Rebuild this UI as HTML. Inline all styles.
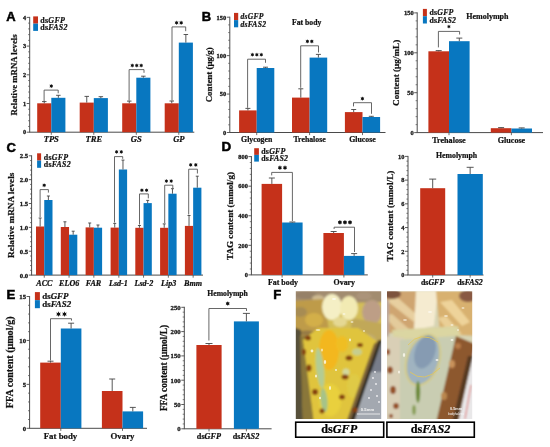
<!DOCTYPE html><html><head><meta charset="utf-8"><style>html,body{margin:0;padding:0;background:#fff;}svg{display:block;filter:blur(0.3px)}</style></head><body>
<svg width="550" height="447" viewBox="0 0 550 447">
<rect width="550" height="447" fill="#fff"/>
<text x="6.2" y="21.2" font-size="13" text-anchor="start" font-weight="bold" font-style="normal" font-family="Liberation Sans" fill="#000" stroke="#000" stroke-width="0.5" >A</text>
<line x1="29.7" y1="16.9" x2="29.7" y2="132.2" stroke="#4a4a4a" stroke-width="1.0"/>
<line x1="29.2" y1="132.2" x2="194.3" y2="132.2" stroke="#4a4a4a" stroke-width="1.0"/>
<line x1="26.7" y1="132.2" x2="29.7" y2="132.2" stroke="#4a4a4a" stroke-width="0.9"/>
<text x="26.099999999999998" y="134.45" font-size="6.25" text-anchor="end" font-weight="bold" font-style="normal" font-family="Liberation Serif" fill="#1a1a1a" stroke="#1a1a1a" stroke-width="0.3" >0</text>
<line x1="28.099999999999998" y1="126.46" x2="29.7" y2="126.46" stroke="#4a4a4a" stroke-width="0.7"/>
<line x1="28.099999999999998" y1="120.71999999999998" x2="29.7" y2="120.71999999999998" stroke="#4a4a4a" stroke-width="0.7"/>
<line x1="28.099999999999998" y1="114.97999999999999" x2="29.7" y2="114.97999999999999" stroke="#4a4a4a" stroke-width="0.7"/>
<line x1="28.099999999999998" y1="109.24" x2="29.7" y2="109.24" stroke="#4a4a4a" stroke-width="0.7"/>
<line x1="26.7" y1="103.5" x2="29.7" y2="103.5" stroke="#4a4a4a" stroke-width="0.9"/>
<text x="26.099999999999998" y="105.75" font-size="6.25" text-anchor="end" font-weight="bold" font-style="normal" font-family="Liberation Serif" fill="#1a1a1a" stroke="#1a1a1a" stroke-width="0.3" >1</text>
<line x1="28.099999999999998" y1="97.76" x2="29.7" y2="97.76" stroke="#4a4a4a" stroke-width="0.7"/>
<line x1="28.099999999999998" y1="92.02" x2="29.7" y2="92.02" stroke="#4a4a4a" stroke-width="0.7"/>
<line x1="28.099999999999998" y1="86.28" x2="29.7" y2="86.28" stroke="#4a4a4a" stroke-width="0.7"/>
<line x1="28.099999999999998" y1="80.54" x2="29.7" y2="80.54" stroke="#4a4a4a" stroke-width="0.7"/>
<line x1="26.7" y1="74.8" x2="29.7" y2="74.8" stroke="#4a4a4a" stroke-width="0.9"/>
<text x="26.099999999999998" y="77.05" font-size="6.25" text-anchor="end" font-weight="bold" font-style="normal" font-family="Liberation Serif" fill="#1a1a1a" stroke="#1a1a1a" stroke-width="0.3" >2</text>
<line x1="28.099999999999998" y1="69.06" x2="29.7" y2="69.06" stroke="#4a4a4a" stroke-width="0.7"/>
<line x1="28.099999999999998" y1="63.32" x2="29.7" y2="63.32" stroke="#4a4a4a" stroke-width="0.7"/>
<line x1="28.099999999999998" y1="57.58" x2="29.7" y2="57.58" stroke="#4a4a4a" stroke-width="0.7"/>
<line x1="28.099999999999998" y1="51.84" x2="29.7" y2="51.84" stroke="#4a4a4a" stroke-width="0.7"/>
<line x1="26.7" y1="46.099999999999994" x2="29.7" y2="46.099999999999994" stroke="#4a4a4a" stroke-width="0.9"/>
<text x="26.099999999999998" y="48.349999999999994" font-size="6.25" text-anchor="end" font-weight="bold" font-style="normal" font-family="Liberation Serif" fill="#1a1a1a" stroke="#1a1a1a" stroke-width="0.3" >3</text>
<line x1="28.099999999999998" y1="40.35999999999999" x2="29.7" y2="40.35999999999999" stroke="#4a4a4a" stroke-width="0.7"/>
<line x1="28.099999999999998" y1="34.62" x2="29.7" y2="34.62" stroke="#4a4a4a" stroke-width="0.7"/>
<line x1="28.099999999999998" y1="28.879999999999995" x2="29.7" y2="28.879999999999995" stroke="#4a4a4a" stroke-width="0.7"/>
<line x1="28.099999999999998" y1="23.139999999999997" x2="29.7" y2="23.139999999999997" stroke="#4a4a4a" stroke-width="0.7"/>
<line x1="26.7" y1="17.400000000000006" x2="29.7" y2="17.400000000000006" stroke="#4a4a4a" stroke-width="0.9"/>
<text x="26.099999999999998" y="19.650000000000006" font-size="6.25" text-anchor="end" font-weight="bold" font-style="normal" font-family="Liberation Serif" fill="#1a1a1a" stroke="#1a1a1a" stroke-width="0.3" >4</text>
<text transform="translate(17.3,74.9) rotate(-90)" font-size="8.75" text-anchor="middle" font-weight="bold" font-family="Liberation Serif" fill="#111" stroke="#111" stroke-width="0.22">Relative mRNA levels</text>
<rect x="33.2" y="16.4" width="4.8" height="7.25" fill="#c5311a"/>
<rect x="33.2" y="23.65" width="4.8" height="7.25" fill="#0877c0"/>
<text x="40.3" y="22.849999999999998" font-size="8.0" text-anchor="start" font-weight="bold" font-style="normal" font-family="Liberation Serif" fill="#111" stroke="#111" stroke-width="0.2" letter-spacing="0.25">ds<tspan font-style="italic">GFP</tspan></text>
<text x="40.3" y="30.099999999999998" font-size="8.0" text-anchor="start" font-weight="bold" font-style="normal" font-family="Liberation Serif" fill="#111" stroke="#111" stroke-width="0.2" letter-spacing="0.25">ds<tspan font-style="italic">FAS2</tspan></text>
<rect x="37.2" y="103.3" width="14.1" height="28.89999999999999" fill="#c5311a"/>
<line x1="44.25" y1="101.6" x2="44.25" y2="103.3" stroke="#444" stroke-width="0.9"/>
<line x1="42.0" y1="101.6" x2="46.5" y2="101.6" stroke="#444" stroke-width="0.9"/>
<rect x="51.300000000000004" y="97.8" width="14.1" height="34.39999999999999" fill="#0877c0"/>
<line x1="58.35" y1="95.3" x2="58.35" y2="97.8" stroke="#444" stroke-width="0.9"/>
<line x1="56.1" y1="95.3" x2="60.6" y2="95.3" stroke="#444" stroke-width="0.9"/>
<line x1="51.300000000000004" y1="132.2" x2="51.300000000000004" y2="134.79999999999998" stroke="#4a4a4a" stroke-width="0.8"/>
<rect x="79.7" y="102.6" width="14.1" height="29.599999999999994" fill="#c5311a"/>
<line x1="86.75" y1="96.4" x2="86.75" y2="102.6" stroke="#444" stroke-width="0.9"/>
<line x1="84.5" y1="96.4" x2="89.0" y2="96.4" stroke="#444" stroke-width="0.9"/>
<rect x="93.8" y="98.1" width="14.1" height="34.099999999999994" fill="#0877c0"/>
<line x1="100.85" y1="96.7" x2="100.85" y2="98.1" stroke="#444" stroke-width="0.9"/>
<line x1="98.6" y1="96.7" x2="103.1" y2="96.7" stroke="#444" stroke-width="0.9"/>
<line x1="93.8" y1="132.2" x2="93.8" y2="134.79999999999998" stroke="#4a4a4a" stroke-width="0.8"/>
<rect x="122.2" y="103.3" width="14.1" height="28.89999999999999" fill="#c5311a"/>
<line x1="129.25" y1="101.1" x2="129.25" y2="103.3" stroke="#444" stroke-width="0.9"/>
<line x1="127.0" y1="101.1" x2="131.5" y2="101.1" stroke="#444" stroke-width="0.9"/>
<rect x="136.3" y="77.7" width="14.1" height="54.499999999999986" fill="#0877c0"/>
<line x1="143.35000000000002" y1="76.2" x2="143.35000000000002" y2="77.7" stroke="#444" stroke-width="0.9"/>
<line x1="141.10000000000002" y1="76.2" x2="145.60000000000002" y2="76.2" stroke="#444" stroke-width="0.9"/>
<line x1="136.3" y1="132.2" x2="136.3" y2="134.79999999999998" stroke="#4a4a4a" stroke-width="0.8"/>
<rect x="164.7" y="103.3" width="14.1" height="28.89999999999999" fill="#c5311a"/>
<line x1="171.75" y1="101.0" x2="171.75" y2="103.3" stroke="#444" stroke-width="0.9"/>
<line x1="169.5" y1="101.0" x2="174.0" y2="101.0" stroke="#444" stroke-width="0.9"/>
<rect x="178.79999999999998" y="42.6" width="14.1" height="89.6" fill="#0877c0"/>
<line x1="185.85" y1="34.5" x2="185.85" y2="42.6" stroke="#444" stroke-width="0.9"/>
<line x1="183.6" y1="34.5" x2="188.1" y2="34.5" stroke="#444" stroke-width="0.9"/>
<line x1="178.79999999999998" y1="132.2" x2="178.79999999999998" y2="134.79999999999998" stroke="#4a4a4a" stroke-width="0.8"/>
<polyline points="44.1,101.6 44.1,90.1 58.2,90.1 58.2,93.3" fill="none" stroke="#4c4c4c" stroke-width="0.85"/>
<circle cx="51.30" cy="86.10" r="1.36" fill="#111"/>
<path d="M51.30,84.55L51.30,87.65M52.64,85.32L49.96,86.88M52.64,86.88L49.96,85.32" stroke="#111" stroke-width="0.62" stroke-linecap="round"/>
<polyline points="129.1,100.6 129.1,69.6 144.0,69.6 144.0,72.8" fill="none" stroke="#4c4c4c" stroke-width="0.85"/>
<circle cx="132.30" cy="65.50" r="1.32" fill="#111"/>
<path d="M132.30,64.00L132.30,67.00M133.60,64.75L131.00,66.25M133.60,66.25L131.00,64.75" stroke="#111" stroke-width="0.60" stroke-linecap="round"/>
<circle cx="136.75" cy="65.50" r="1.32" fill="#111"/>
<path d="M136.75,64.00L136.75,67.00M138.05,64.75L135.45,66.25M138.05,66.25L135.45,64.75" stroke="#111" stroke-width="0.60" stroke-linecap="round"/>
<circle cx="141.20" cy="65.50" r="1.32" fill="#111"/>
<path d="M141.20,64.00L141.20,67.00M142.50,64.75L139.90,66.25M142.50,66.25L139.90,64.75" stroke="#111" stroke-width="0.60" stroke-linecap="round"/>
<polyline points="172.0,100.5 172.0,26.9 185.7,26.9 185.7,31.2" fill="none" stroke="#4c4c4c" stroke-width="0.85"/>
<circle cx="176.60" cy="22.80" r="1.41" fill="#111"/>
<path d="M176.60,21.20L176.60,24.40M177.99,22.00L175.21,23.60M177.99,23.60L175.21,22.00" stroke="#111" stroke-width="0.64" stroke-linecap="round"/>
<circle cx="181.20" cy="22.80" r="1.41" fill="#111"/>
<path d="M181.20,21.20L181.20,24.40M182.59,22.00L179.81,23.60M182.59,23.60L179.81,22.00" stroke="#111" stroke-width="0.64" stroke-linecap="round"/>
<text x="51.3" y="141.6" font-size="8.5" text-anchor="middle" font-weight="bold" font-style="italic" font-family="Liberation Serif" fill="#111" stroke="#111" stroke-width="0.22" >TPS</text>
<text x="93.8" y="141.6" font-size="8.5" text-anchor="middle" font-weight="bold" font-style="italic" font-family="Liberation Serif" fill="#111" stroke="#111" stroke-width="0.22" >TRE</text>
<text x="136.3" y="141.6" font-size="8.5" text-anchor="middle" font-weight="bold" font-style="italic" font-family="Liberation Serif" fill="#111" stroke="#111" stroke-width="0.22" >GS</text>
<text x="178.8" y="141.6" font-size="8.5" text-anchor="middle" font-weight="bold" font-style="italic" font-family="Liberation Serif" fill="#111" stroke="#111" stroke-width="0.22" >GP</text>
<text x="201.8" y="21.2" font-size="13" text-anchor="start" font-weight="bold" font-style="normal" font-family="Liberation Sans" fill="#000" stroke="#000" stroke-width="0.5" >B</text>
<line x1="229.8" y1="16.7" x2="229.8" y2="132.5" stroke="#4a4a4a" stroke-width="1.0"/>
<line x1="229.3" y1="132.5" x2="385.5" y2="132.5" stroke="#4a4a4a" stroke-width="1.0"/>
<line x1="226.8" y1="132.5" x2="229.8" y2="132.5" stroke="#4a4a4a" stroke-width="0.9"/>
<text x="226.20000000000002" y="134.822" font-size="6.45" text-anchor="end" font-weight="bold" font-style="normal" font-family="Liberation Serif" fill="#1a1a1a" stroke="#1a1a1a" stroke-width="0.3" >0</text>
<line x1="228.20000000000002" y1="124.81333333333333" x2="229.8" y2="124.81333333333333" stroke="#4a4a4a" stroke-width="0.7"/>
<line x1="228.20000000000002" y1="117.12666666666667" x2="229.8" y2="117.12666666666667" stroke="#4a4a4a" stroke-width="0.7"/>
<line x1="228.20000000000002" y1="109.44" x2="229.8" y2="109.44" stroke="#4a4a4a" stroke-width="0.7"/>
<line x1="228.20000000000002" y1="101.75333333333333" x2="229.8" y2="101.75333333333333" stroke="#4a4a4a" stroke-width="0.7"/>
<line x1="226.8" y1="94.06666666666666" x2="229.8" y2="94.06666666666666" stroke="#4a4a4a" stroke-width="0.9"/>
<text x="226.20000000000002" y="96.38866666666667" font-size="6.45" text-anchor="end" font-weight="bold" font-style="normal" font-family="Liberation Serif" fill="#1a1a1a" stroke="#1a1a1a" stroke-width="0.3" >50</text>
<line x1="228.20000000000002" y1="86.38" x2="229.8" y2="86.38" stroke="#4a4a4a" stroke-width="0.7"/>
<line x1="228.20000000000002" y1="78.69333333333333" x2="229.8" y2="78.69333333333333" stroke="#4a4a4a" stroke-width="0.7"/>
<line x1="228.20000000000002" y1="71.00666666666666" x2="229.8" y2="71.00666666666666" stroke="#4a4a4a" stroke-width="0.7"/>
<line x1="228.20000000000002" y1="63.32" x2="229.8" y2="63.32" stroke="#4a4a4a" stroke-width="0.7"/>
<line x1="226.8" y1="55.63333333333334" x2="229.8" y2="55.63333333333334" stroke="#4a4a4a" stroke-width="0.9"/>
<text x="226.20000000000002" y="57.95533333333334" font-size="6.45" text-anchor="end" font-weight="bold" font-style="normal" font-family="Liberation Serif" fill="#1a1a1a" stroke="#1a1a1a" stroke-width="0.3" >100</text>
<line x1="228.20000000000002" y1="47.94666666666667" x2="229.8" y2="47.94666666666667" stroke="#4a4a4a" stroke-width="0.7"/>
<line x1="228.20000000000002" y1="40.260000000000005" x2="229.8" y2="40.260000000000005" stroke="#4a4a4a" stroke-width="0.7"/>
<line x1="228.20000000000002" y1="32.573333333333345" x2="229.8" y2="32.573333333333345" stroke="#4a4a4a" stroke-width="0.7"/>
<line x1="228.20000000000002" y1="24.886666666666677" x2="229.8" y2="24.886666666666677" stroke="#4a4a4a" stroke-width="0.7"/>
<line x1="226.8" y1="17.200000000000017" x2="229.8" y2="17.200000000000017" stroke="#4a4a4a" stroke-width="0.9"/>
<text x="226.20000000000002" y="19.522000000000016" font-size="6.45" text-anchor="end" font-weight="bold" font-style="normal" font-family="Liberation Serif" fill="#1a1a1a" stroke="#1a1a1a" stroke-width="0.3" >150</text>
<text transform="translate(212.2,74.8) rotate(-90)" font-size="8.9" text-anchor="middle" font-weight="bold" font-family="Liberation Serif" fill="#111" stroke="#111" stroke-width="0.22">Content (μg/g)</text>
<rect x="234.0" y="12.9" width="4.2" height="7.2" fill="#c5311a"/>
<rect x="234.0" y="20.1" width="4.2" height="7.2" fill="#0877c0"/>
<text x="240.5" y="19.3" font-size="7.6" text-anchor="start" font-weight="bold" font-style="italic" font-family="Liberation Serif" fill="#111" stroke="#111" stroke-width="0.2" letter-spacing="0.25">dsGFP</text>
<text x="240.5" y="26.5" font-size="7.6" text-anchor="start" font-weight="bold" font-style="italic" font-family="Liberation Serif" fill="#111" stroke="#111" stroke-width="0.2" letter-spacing="0.25">dsFAS2</text>
<text x="292.0" y="24.6" font-size="7.7" text-anchor="start" font-weight="bold" font-style="normal" font-family="Liberation Serif" fill="#111" stroke="#111" stroke-width="0.22" >Fat body</text>
<rect x="239.1" y="110.4" width="17.6" height="22.099999999999994" fill="#c5311a"/>
<line x1="247.9" y1="108.4" x2="247.9" y2="110.4" stroke="#444" stroke-width="0.9"/>
<line x1="245.4" y1="108.4" x2="250.4" y2="108.4" stroke="#444" stroke-width="0.9"/>
<rect x="256.7" y="68.0" width="17.6" height="64.5" fill="#0877c0"/>
<line x1="265.5" y1="67.2" x2="265.5" y2="68.0" stroke="#444" stroke-width="0.9"/>
<line x1="263.0" y1="67.2" x2="268.0" y2="67.2" stroke="#444" stroke-width="0.9"/>
<line x1="256.7" y1="132.5" x2="256.7" y2="135.1" stroke="#4a4a4a" stroke-width="0.8"/>
<rect x="292.0" y="97.6" width="17.6" height="34.900000000000006" fill="#c5311a"/>
<line x1="300.8" y1="88.8" x2="300.8" y2="97.6" stroke="#444" stroke-width="0.9"/>
<line x1="298.3" y1="88.8" x2="303.3" y2="88.8" stroke="#444" stroke-width="0.9"/>
<rect x="309.6" y="57.6" width="17.6" height="74.9" fill="#0877c0"/>
<line x1="318.40000000000003" y1="54.4" x2="318.40000000000003" y2="57.6" stroke="#444" stroke-width="0.9"/>
<line x1="315.90000000000003" y1="54.4" x2="320.90000000000003" y2="54.4" stroke="#444" stroke-width="0.9"/>
<line x1="309.6" y1="132.5" x2="309.6" y2="135.1" stroke="#4a4a4a" stroke-width="0.8"/>
<rect x="344.9" y="112.1" width="17.6" height="20.400000000000006" fill="#c5311a"/>
<line x1="353.7" y1="109.5" x2="353.7" y2="112.1" stroke="#444" stroke-width="0.9"/>
<line x1="351.2" y1="109.5" x2="356.2" y2="109.5" stroke="#444" stroke-width="0.9"/>
<rect x="362.5" y="117.0" width="17.6" height="15.5" fill="#0877c0"/>
<line x1="371.3" y1="116.3" x2="371.3" y2="117.0" stroke="#444" stroke-width="0.9"/>
<line x1="368.8" y1="116.3" x2="373.8" y2="116.3" stroke="#444" stroke-width="0.9"/>
<line x1="362.5" y1="132.5" x2="362.5" y2="135.1" stroke="#4a4a4a" stroke-width="0.8"/>
<polyline points="247.6,107.8 247.6,59.2 265.5,59.2 265.5,62.8" fill="none" stroke="#4c4c4c" stroke-width="0.85"/>
<circle cx="252.40" cy="54.70" r="1.32" fill="#111"/>
<path d="M252.40,53.20L252.40,56.20M253.70,53.95L251.10,55.45M253.70,55.45L251.10,53.95" stroke="#111" stroke-width="0.60" stroke-linecap="round"/>
<circle cx="256.85" cy="54.70" r="1.32" fill="#111"/>
<path d="M256.85,53.20L256.85,56.20M258.15,53.95L255.55,55.45M258.15,55.45L255.55,53.95" stroke="#111" stroke-width="0.60" stroke-linecap="round"/>
<circle cx="261.30" cy="54.70" r="1.32" fill="#111"/>
<path d="M261.30,53.20L261.30,56.20M262.60,53.95L260.00,55.45M262.60,55.45L260.00,53.95" stroke="#111" stroke-width="0.60" stroke-linecap="round"/>
<polyline points="300.7,87.8 300.7,45.8 318.5,45.8 318.5,52.5" fill="none" stroke="#4c4c4c" stroke-width="0.85"/>
<circle cx="307.40" cy="41.40" r="1.32" fill="#111"/>
<path d="M307.40,39.90L307.40,42.90M308.70,40.65L306.10,42.15M308.70,42.15L306.10,40.65" stroke="#111" stroke-width="0.60" stroke-linecap="round"/>
<circle cx="311.80" cy="41.40" r="1.32" fill="#111"/>
<path d="M311.80,39.90L311.80,42.90M313.10,40.65L310.50,42.15M313.10,42.15L310.50,40.65" stroke="#111" stroke-width="0.60" stroke-linecap="round"/>
<polyline points="353.5,106.4 353.5,102.7 371.5,102.7 371.5,113.8" fill="none" stroke="#4c4c4c" stroke-width="0.85"/>
<circle cx="362.40" cy="98.70" r="1.36" fill="#111"/>
<path d="M362.40,97.15L362.40,100.25M363.74,97.92L361.06,99.48M363.74,99.48L361.06,97.92" stroke="#111" stroke-width="0.62" stroke-linecap="round"/>
<text x="256.7" y="142.4" font-size="7.8" text-anchor="middle" font-weight="bold" font-style="normal" font-family="Liberation Serif" fill="#111" stroke="#111" stroke-width="0.22" >Glycogen</text>
<text x="309.6" y="142.4" font-size="7.8" text-anchor="middle" font-weight="bold" font-style="normal" font-family="Liberation Serif" fill="#111" stroke="#111" stroke-width="0.22" >Trehalose</text>
<text x="362.5" y="142.4" font-size="7.8" text-anchor="middle" font-weight="bold" font-style="normal" font-family="Liberation Serif" fill="#111" stroke="#111" stroke-width="0.22" >Glucose</text>
<line x1="417.2" y1="12.4" x2="417.2" y2="132.6" stroke="#4a4a4a" stroke-width="1.0"/>
<line x1="416.7" y1="132.6" x2="543" y2="132.6" stroke="#4a4a4a" stroke-width="1.0"/>
<line x1="414.2" y1="132.6" x2="417.2" y2="132.6" stroke="#4a4a4a" stroke-width="0.9"/>
<text x="413.59999999999997" y="134.922" font-size="6.45" text-anchor="end" font-weight="bold" font-style="normal" font-family="Liberation Serif" fill="#1a1a1a" stroke="#1a1a1a" stroke-width="0.3" >0</text>
<line x1="415.59999999999997" y1="124.61999999999999" x2="417.2" y2="124.61999999999999" stroke="#4a4a4a" stroke-width="0.7"/>
<line x1="415.59999999999997" y1="116.64" x2="417.2" y2="116.64" stroke="#4a4a4a" stroke-width="0.7"/>
<line x1="415.59999999999997" y1="108.66" x2="417.2" y2="108.66" stroke="#4a4a4a" stroke-width="0.7"/>
<line x1="415.59999999999997" y1="100.67999999999999" x2="417.2" y2="100.67999999999999" stroke="#4a4a4a" stroke-width="0.7"/>
<line x1="414.2" y1="92.69999999999999" x2="417.2" y2="92.69999999999999" stroke="#4a4a4a" stroke-width="0.9"/>
<text x="413.59999999999997" y="95.02199999999999" font-size="6.45" text-anchor="end" font-weight="bold" font-style="normal" font-family="Liberation Serif" fill="#1a1a1a" stroke="#1a1a1a" stroke-width="0.3" >50</text>
<line x1="415.59999999999997" y1="84.71999999999998" x2="417.2" y2="84.71999999999998" stroke="#4a4a4a" stroke-width="0.7"/>
<line x1="415.59999999999997" y1="76.74" x2="417.2" y2="76.74" stroke="#4a4a4a" stroke-width="0.7"/>
<line x1="415.59999999999997" y1="68.75999999999999" x2="417.2" y2="68.75999999999999" stroke="#4a4a4a" stroke-width="0.7"/>
<line x1="415.59999999999997" y1="60.77999999999999" x2="417.2" y2="60.77999999999999" stroke="#4a4a4a" stroke-width="0.7"/>
<line x1="414.2" y1="52.8" x2="417.2" y2="52.8" stroke="#4a4a4a" stroke-width="0.9"/>
<text x="413.59999999999997" y="55.122" font-size="6.45" text-anchor="end" font-weight="bold" font-style="normal" font-family="Liberation Serif" fill="#1a1a1a" stroke="#1a1a1a" stroke-width="0.3" >100</text>
<line x1="415.59999999999997" y1="44.82" x2="417.2" y2="44.82" stroke="#4a4a4a" stroke-width="0.7"/>
<line x1="415.59999999999997" y1="36.839999999999996" x2="417.2" y2="36.839999999999996" stroke="#4a4a4a" stroke-width="0.7"/>
<line x1="415.59999999999997" y1="28.86" x2="417.2" y2="28.86" stroke="#4a4a4a" stroke-width="0.7"/>
<line x1="415.59999999999997" y1="20.88" x2="417.2" y2="20.88" stroke="#4a4a4a" stroke-width="0.7"/>
<line x1="414.2" y1="12.900000000000006" x2="417.2" y2="12.900000000000006" stroke="#4a4a4a" stroke-width="0.9"/>
<text x="413.59999999999997" y="15.222000000000005" font-size="6.45" text-anchor="end" font-weight="bold" font-style="normal" font-family="Liberation Serif" fill="#1a1a1a" stroke="#1a1a1a" stroke-width="0.3" >150</text>
<text transform="translate(398.9,72.8) rotate(-90)" font-size="9.2" text-anchor="middle" font-weight="bold" font-family="Liberation Serif" fill="#111" stroke="#111" stroke-width="0.22">Content (μg/mL)</text>
<rect x="422.9" y="8.9" width="4.0" height="7.3" fill="#c5311a"/>
<rect x="422.9" y="16.2" width="4.0" height="7.3" fill="#0877c0"/>
<text x="429.4" y="15.399999999999999" font-size="7.8" text-anchor="start" font-weight="bold" font-style="normal" font-family="Liberation Serif" fill="#111" stroke="#111" stroke-width="0.2" letter-spacing="0.25">ds<tspan font-style="italic">GFP</tspan></text>
<text x="429.4" y="22.7" font-size="7.8" text-anchor="start" font-weight="bold" font-style="normal" font-family="Liberation Serif" fill="#111" stroke="#111" stroke-width="0.2" letter-spacing="0.25">ds<tspan font-style="italic">FAS2</tspan></text>
<text x="487.4" y="18.9" font-size="8.0" text-anchor="middle" font-weight="bold" font-style="normal" font-family="Liberation Serif" fill="#111" stroke="#111" stroke-width="0.22" >Hemolymph</text>
<rect x="428.4" y="51.3" width="20.6" height="81.3" fill="#c5311a"/>
<line x1="438.7" y1="50.6" x2="438.7" y2="51.3" stroke="#444" stroke-width="0.9"/>
<line x1="435.7" y1="50.6" x2="441.7" y2="50.6" stroke="#444" stroke-width="0.9"/>
<rect x="449.0" y="41.2" width="20.6" height="91.39999999999999" fill="#0877c0"/>
<line x1="459.3" y1="38.1" x2="459.3" y2="41.2" stroke="#444" stroke-width="0.9"/>
<line x1="456.3" y1="38.1" x2="462.3" y2="38.1" stroke="#444" stroke-width="0.9"/>
<line x1="449.0" y1="132.6" x2="449.0" y2="135.2" stroke="#4a4a4a" stroke-width="0.8"/>
<rect x="490.8" y="128.2" width="20.6" height="4.400000000000006" fill="#c5311a"/>
<line x1="501.1" y1="127.6" x2="501.1" y2="128.2" stroke="#444" stroke-width="0.9"/>
<line x1="498.1" y1="127.6" x2="504.1" y2="127.6" stroke="#444" stroke-width="0.9"/>
<rect x="511.40000000000003" y="128.5" width="20.6" height="4.099999999999994" fill="#0877c0"/>
<line x1="521.7" y1="127.9" x2="521.7" y2="128.5" stroke="#444" stroke-width="0.9"/>
<line x1="518.7" y1="127.9" x2="524.7" y2="127.9" stroke="#444" stroke-width="0.9"/>
<line x1="511.40000000000003" y1="132.6" x2="511.40000000000003" y2="135.2" stroke="#4a4a4a" stroke-width="0.8"/>
<polyline points="438.4,47.4 438.4,31.4 459.6,31.4 459.6,34.5" fill="none" stroke="#4c4c4c" stroke-width="0.85"/>
<circle cx="448.90" cy="26.60" r="1.19" fill="#111"/>
<path d="M448.90,25.25L448.90,27.95M450.07,25.93L447.73,27.28M450.07,27.28L447.73,25.93" stroke="#111" stroke-width="0.54" stroke-linecap="round"/>
<text x="449.0" y="143.0" font-size="8.1" text-anchor="middle" font-weight="bold" font-style="normal" font-family="Liberation Serif" fill="#111" stroke="#111" stroke-width="0.22" >Trehalose</text>
<text x="511.5" y="143.0" font-size="8.1" text-anchor="middle" font-weight="bold" font-style="normal" font-family="Liberation Serif" fill="#111" stroke="#111" stroke-width="0.22" >Glucose</text>
<text x="6.5" y="151.9" font-size="13" text-anchor="start" font-weight="bold" font-style="normal" font-family="Liberation Sans" fill="#000" stroke="#000" stroke-width="0.5" >C</text>
<line x1="31.6" y1="155.3" x2="31.6" y2="275.1" stroke="#4a4a4a" stroke-width="1.0"/>
<line x1="31.1" y1="275.1" x2="203.0" y2="275.1" stroke="#4a4a4a" stroke-width="1.0"/>
<line x1="28.8" y1="275.1" x2="31.6" y2="275.1" stroke="#4a4a4a" stroke-width="0.9"/>
<text x="28.2" y="277.53000000000003" font-size="6.75" text-anchor="end" font-weight="bold" font-style="normal" font-family="Liberation Serif" fill="#1a1a1a" stroke="#1a1a1a" stroke-width="0.3" >0.0</text>
<line x1="30.0" y1="270.32800000000003" x2="31.6" y2="270.32800000000003" stroke="#4a4a4a" stroke-width="0.7"/>
<line x1="30.0" y1="265.55600000000004" x2="31.6" y2="265.55600000000004" stroke="#4a4a4a" stroke-width="0.7"/>
<line x1="30.0" y1="260.784" x2="31.6" y2="260.784" stroke="#4a4a4a" stroke-width="0.7"/>
<line x1="30.0" y1="256.012" x2="31.6" y2="256.012" stroke="#4a4a4a" stroke-width="0.7"/>
<line x1="28.8" y1="251.24" x2="31.6" y2="251.24" stroke="#4a4a4a" stroke-width="0.9"/>
<text x="28.2" y="253.67000000000002" font-size="6.75" text-anchor="end" font-weight="bold" font-style="normal" font-family="Liberation Serif" fill="#1a1a1a" stroke="#1a1a1a" stroke-width="0.3" >0.5</text>
<line x1="30.0" y1="246.46800000000002" x2="31.6" y2="246.46800000000002" stroke="#4a4a4a" stroke-width="0.7"/>
<line x1="30.0" y1="241.696" x2="31.6" y2="241.696" stroke="#4a4a4a" stroke-width="0.7"/>
<line x1="30.0" y1="236.924" x2="31.6" y2="236.924" stroke="#4a4a4a" stroke-width="0.7"/>
<line x1="30.0" y1="232.15200000000002" x2="31.6" y2="232.15200000000002" stroke="#4a4a4a" stroke-width="0.7"/>
<line x1="28.8" y1="227.38000000000002" x2="31.6" y2="227.38000000000002" stroke="#4a4a4a" stroke-width="0.9"/>
<text x="28.2" y="229.81000000000003" font-size="6.75" text-anchor="end" font-weight="bold" font-style="normal" font-family="Liberation Serif" fill="#1a1a1a" stroke="#1a1a1a" stroke-width="0.3" >1.0</text>
<line x1="30.0" y1="222.60800000000003" x2="31.6" y2="222.60800000000003" stroke="#4a4a4a" stroke-width="0.7"/>
<line x1="30.0" y1="217.836" x2="31.6" y2="217.836" stroke="#4a4a4a" stroke-width="0.7"/>
<line x1="30.0" y1="213.06400000000002" x2="31.6" y2="213.06400000000002" stroke="#4a4a4a" stroke-width="0.7"/>
<line x1="30.0" y1="208.29200000000003" x2="31.6" y2="208.29200000000003" stroke="#4a4a4a" stroke-width="0.7"/>
<line x1="28.8" y1="203.52" x2="31.6" y2="203.52" stroke="#4a4a4a" stroke-width="0.9"/>
<text x="28.2" y="205.95000000000002" font-size="6.75" text-anchor="end" font-weight="bold" font-style="normal" font-family="Liberation Serif" fill="#1a1a1a" stroke="#1a1a1a" stroke-width="0.3" >1.5</text>
<line x1="30.0" y1="198.74800000000002" x2="31.6" y2="198.74800000000002" stroke="#4a4a4a" stroke-width="0.7"/>
<line x1="30.0" y1="193.976" x2="31.6" y2="193.976" stroke="#4a4a4a" stroke-width="0.7"/>
<line x1="30.0" y1="189.204" x2="31.6" y2="189.204" stroke="#4a4a4a" stroke-width="0.7"/>
<line x1="30.0" y1="184.43200000000002" x2="31.6" y2="184.43200000000002" stroke="#4a4a4a" stroke-width="0.7"/>
<line x1="28.8" y1="179.66000000000003" x2="31.6" y2="179.66000000000003" stroke="#4a4a4a" stroke-width="0.9"/>
<text x="28.2" y="182.09000000000003" font-size="6.75" text-anchor="end" font-weight="bold" font-style="normal" font-family="Liberation Serif" fill="#1a1a1a" stroke="#1a1a1a" stroke-width="0.3" >2.0</text>
<line x1="30.0" y1="174.88800000000003" x2="31.6" y2="174.88800000000003" stroke="#4a4a4a" stroke-width="0.7"/>
<line x1="30.0" y1="170.116" x2="31.6" y2="170.116" stroke="#4a4a4a" stroke-width="0.7"/>
<line x1="30.0" y1="165.34400000000002" x2="31.6" y2="165.34400000000002" stroke="#4a4a4a" stroke-width="0.7"/>
<line x1="30.0" y1="160.57200000000003" x2="31.6" y2="160.57200000000003" stroke="#4a4a4a" stroke-width="0.7"/>
<line x1="28.8" y1="155.8" x2="31.6" y2="155.8" stroke="#4a4a4a" stroke-width="0.9"/>
<text x="28.2" y="158.23000000000002" font-size="6.75" text-anchor="end" font-weight="bold" font-style="normal" font-family="Liberation Serif" fill="#1a1a1a" stroke="#1a1a1a" stroke-width="0.3" >2.5</text>
<text transform="translate(14.1,215.35) rotate(-90)" font-size="9.2" text-anchor="middle" font-weight="bold" font-family="Liberation Serif" fill="#111" stroke="#111" stroke-width="0.22">Relative mRNA levels</text>
<rect x="37.1" y="153.3" width="4.0" height="7.25" fill="#c5311a"/>
<rect x="37.1" y="160.55" width="4.0" height="7.25" fill="#0877c0"/>
<text x="43.8" y="159.75" font-size="7.9" text-anchor="start" font-weight="bold" font-style="normal" font-family="Liberation Serif" fill="#111" stroke="#111" stroke-width="0.2" letter-spacing="0.25">ds<tspan font-style="italic">GFP</tspan></text>
<text x="43.8" y="167.0" font-size="7.9" text-anchor="start" font-weight="bold" font-style="normal" font-family="Liberation Serif" fill="#111" stroke="#111" stroke-width="0.2" letter-spacing="0.25">ds<tspan font-style="italic">FAS2</tspan></text>
<rect x="36.0" y="226.5" width="8.25" height="48.60000000000002" fill="#c5311a"/>
<line x1="40.125" y1="218.0" x2="40.125" y2="226.5" stroke="#444" stroke-width="0.9"/>
<line x1="38.625" y1="218.0" x2="41.625" y2="218.0" stroke="#444" stroke-width="0.9"/>
<rect x="44.25" y="200.0" width="8.25" height="75.10000000000002" fill="#0877c0"/>
<line x1="48.375" y1="196.0" x2="48.375" y2="200.0" stroke="#444" stroke-width="0.9"/>
<line x1="46.875" y1="196.0" x2="49.875" y2="196.0" stroke="#444" stroke-width="0.9"/>
<line x1="44.25" y1="275.1" x2="44.25" y2="277.70000000000005" stroke="#4a4a4a" stroke-width="0.8"/>
<rect x="60.8" y="227.0" width="8.25" height="48.10000000000002" fill="#c5311a"/>
<line x1="64.925" y1="221.8" x2="64.925" y2="227.0" stroke="#444" stroke-width="0.9"/>
<line x1="63.425" y1="221.8" x2="66.425" y2="221.8" stroke="#444" stroke-width="0.9"/>
<rect x="69.05" y="234.7" width="8.25" height="40.400000000000034" fill="#0877c0"/>
<line x1="73.175" y1="231.2" x2="73.175" y2="234.7" stroke="#444" stroke-width="0.9"/>
<line x1="71.675" y1="231.2" x2="74.675" y2="231.2" stroke="#444" stroke-width="0.9"/>
<line x1="69.05" y1="275.1" x2="69.05" y2="277.70000000000005" stroke="#4a4a4a" stroke-width="0.8"/>
<rect x="85.6" y="227.4" width="8.25" height="47.70000000000002" fill="#c5311a"/>
<line x1="89.725" y1="223.0" x2="89.725" y2="227.4" stroke="#444" stroke-width="0.9"/>
<line x1="88.225" y1="223.0" x2="91.225" y2="223.0" stroke="#444" stroke-width="0.9"/>
<rect x="93.85" y="227.7" width="8.25" height="47.400000000000034" fill="#0877c0"/>
<line x1="97.975" y1="225.0" x2="97.975" y2="227.7" stroke="#444" stroke-width="0.9"/>
<line x1="96.475" y1="225.0" x2="99.475" y2="225.0" stroke="#444" stroke-width="0.9"/>
<line x1="93.85" y1="275.1" x2="93.85" y2="277.70000000000005" stroke="#4a4a4a" stroke-width="0.8"/>
<rect x="110.6" y="227.6" width="8.25" height="47.50000000000003" fill="#c5311a"/>
<line x1="114.725" y1="223.4" x2="114.725" y2="227.6" stroke="#444" stroke-width="0.9"/>
<line x1="113.225" y1="223.4" x2="116.225" y2="223.4" stroke="#444" stroke-width="0.9"/>
<rect x="118.85" y="169.5" width="8.25" height="105.60000000000002" fill="#0877c0"/>
<line x1="122.975" y1="160.1" x2="122.975" y2="169.5" stroke="#444" stroke-width="0.9"/>
<line x1="121.475" y1="160.1" x2="124.475" y2="160.1" stroke="#444" stroke-width="0.9"/>
<line x1="118.85" y1="275.1" x2="118.85" y2="277.70000000000005" stroke="#4a4a4a" stroke-width="0.8"/>
<rect x="135.3" y="227.8" width="8.25" height="47.30000000000001" fill="#c5311a"/>
<line x1="139.425" y1="225.5" x2="139.425" y2="227.8" stroke="#444" stroke-width="0.9"/>
<line x1="137.925" y1="225.5" x2="140.925" y2="225.5" stroke="#444" stroke-width="0.9"/>
<rect x="143.55" y="203.1" width="8.25" height="72.00000000000003" fill="#0877c0"/>
<line x1="147.675" y1="200.4" x2="147.675" y2="203.1" stroke="#444" stroke-width="0.9"/>
<line x1="146.175" y1="200.4" x2="149.175" y2="200.4" stroke="#444" stroke-width="0.9"/>
<line x1="143.55" y1="275.1" x2="143.55" y2="277.70000000000005" stroke="#4a4a4a" stroke-width="0.8"/>
<rect x="160.1" y="227.8" width="8.25" height="47.30000000000001" fill="#c5311a"/>
<line x1="164.225" y1="223.9" x2="164.225" y2="227.8" stroke="#444" stroke-width="0.9"/>
<line x1="162.725" y1="223.9" x2="165.725" y2="223.9" stroke="#444" stroke-width="0.9"/>
<rect x="168.35" y="193.7" width="8.25" height="81.40000000000003" fill="#0877c0"/>
<line x1="172.475" y1="188.7" x2="172.475" y2="193.7" stroke="#444" stroke-width="0.9"/>
<line x1="170.975" y1="188.7" x2="173.975" y2="188.7" stroke="#444" stroke-width="0.9"/>
<line x1="168.35" y1="275.1" x2="168.35" y2="277.70000000000005" stroke="#4a4a4a" stroke-width="0.8"/>
<rect x="184.9" y="225.9" width="8.25" height="49.20000000000002" fill="#c5311a"/>
<line x1="189.025" y1="215.5" x2="189.025" y2="225.9" stroke="#444" stroke-width="0.9"/>
<line x1="187.525" y1="215.5" x2="190.525" y2="215.5" stroke="#444" stroke-width="0.9"/>
<rect x="193.15" y="187.7" width="8.25" height="87.40000000000003" fill="#0877c0"/>
<line x1="197.275" y1="176.2" x2="197.275" y2="187.7" stroke="#444" stroke-width="0.9"/>
<line x1="195.775" y1="176.2" x2="198.775" y2="176.2" stroke="#444" stroke-width="0.9"/>
<line x1="193.15" y1="275.1" x2="193.15" y2="277.70000000000005" stroke="#4a4a4a" stroke-width="0.8"/>
<polyline points="40.1,217.0 40.1,189.6 48.4,189.6 48.4,192.6" fill="none" stroke="#4c4c4c" stroke-width="0.85"/>
<circle cx="44.20" cy="185.30" r="1.32" fill="#111"/>
<path d="M44.20,183.80L44.20,186.80M45.50,184.55L42.90,186.05M45.50,186.05L42.90,184.55" stroke="#111" stroke-width="0.60" stroke-linecap="round"/>
<polyline points="114.5,222.5 114.5,156.6 122.7,156.6 122.7,158.8" fill="none" stroke="#4c4c4c" stroke-width="0.85"/>
<circle cx="116.60" cy="151.90" r="1.28" fill="#111"/>
<path d="M116.60,150.45L116.60,153.35M117.86,151.18L115.34,152.62M117.86,152.62L115.34,151.18" stroke="#111" stroke-width="0.58" stroke-linecap="round"/>
<circle cx="121.30" cy="151.90" r="1.28" fill="#111"/>
<path d="M121.30,150.45L121.30,153.35M122.56,151.18L120.04,152.62M122.56,152.62L120.04,151.18" stroke="#111" stroke-width="0.58" stroke-linecap="round"/>
<polyline points="139.5,224.5 139.5,193.9 148.3,193.9 148.3,198.4" fill="none" stroke="#4c4c4c" stroke-width="0.85"/>
<circle cx="141.90" cy="190.20" r="1.28" fill="#111"/>
<path d="M141.90,188.75L141.90,191.65M143.16,189.47L140.64,190.92M143.16,190.92L140.64,189.47" stroke="#111" stroke-width="0.58" stroke-linecap="round"/>
<circle cx="146.60" cy="190.20" r="1.28" fill="#111"/>
<path d="M146.60,188.75L146.60,191.65M147.86,189.47L145.34,190.92M147.86,190.92L145.34,189.47" stroke="#111" stroke-width="0.58" stroke-linecap="round"/>
<polyline points="164.7,223.0 164.7,185.2 172.8,185.2 172.8,188.2" fill="none" stroke="#4c4c4c" stroke-width="0.85"/>
<circle cx="166.40" cy="181.10" r="1.28" fill="#111"/>
<path d="M166.40,179.65L166.40,182.55M167.66,180.38L165.14,181.82M167.66,181.82L165.14,180.38" stroke="#111" stroke-width="0.58" stroke-linecap="round"/>
<circle cx="171.20" cy="181.10" r="1.28" fill="#111"/>
<path d="M171.20,179.65L171.20,182.55M172.46,180.38L169.94,181.82M172.46,181.82L169.94,180.38" stroke="#111" stroke-width="0.58" stroke-linecap="round"/>
<polyline points="188.7,214.5 188.7,169.2 197.4,169.2 197.4,173.5" fill="none" stroke="#4c4c4c" stroke-width="0.85"/>
<circle cx="190.70" cy="164.90" r="1.32" fill="#111"/>
<path d="M190.70,163.40L190.70,166.40M192.00,164.15L189.40,165.65M192.00,165.65L189.40,164.15" stroke="#111" stroke-width="0.60" stroke-linecap="round"/>
<circle cx="195.80" cy="164.90" r="1.32" fill="#111"/>
<path d="M195.80,163.40L195.80,166.40M197.10,164.15L194.50,165.65M197.10,165.65L194.50,164.15" stroke="#111" stroke-width="0.60" stroke-linecap="round"/>
<text x="44.4" y="285.6" font-size="8.1" text-anchor="middle" font-weight="bold" font-style="italic" font-family="Liberation Serif" fill="#111" stroke="#111" stroke-width="0.22" >ACC</text>
<text x="69.2" y="285.6" font-size="8.1" text-anchor="middle" font-weight="bold" font-style="italic" font-family="Liberation Serif" fill="#111" stroke="#111" stroke-width="0.22" >ELO6</text>
<text x="93.5" y="285.6" font-size="8.1" text-anchor="middle" font-weight="bold" font-style="italic" font-family="Liberation Serif" fill="#111" stroke="#111" stroke-width="0.22" >FAR</text>
<text x="118.4" y="285.6" font-size="8.1" text-anchor="middle" font-weight="bold" font-style="italic" font-family="Liberation Serif" fill="#111" stroke="#111" stroke-width="0.22" >Lsd-1</text>
<text x="143.9" y="285.6" font-size="8.1" text-anchor="middle" font-weight="bold" font-style="italic" font-family="Liberation Serif" fill="#111" stroke="#111" stroke-width="0.22" >Lsd-2</text>
<text x="168.7" y="285.6" font-size="8.1" text-anchor="middle" font-weight="bold" font-style="italic" font-family="Liberation Serif" fill="#111" stroke="#111" stroke-width="0.22" >Lip3</text>
<text x="193.1" y="285.6" font-size="8.1" text-anchor="middle" font-weight="bold" font-style="italic" font-family="Liberation Serif" fill="#111" stroke="#111" stroke-width="0.22" >Bmm</text>
<text x="221.4" y="151.4" font-size="13.4" text-anchor="start" font-weight="bold" font-style="normal" font-family="Liberation Sans" fill="#000" stroke="#000" stroke-width="0.5" >D</text>
<line x1="251.4" y1="156.1" x2="251.4" y2="274.9" stroke="#4a4a4a" stroke-width="1.0"/>
<line x1="250.9" y1="274.9" x2="367.8" y2="274.9" stroke="#4a4a4a" stroke-width="1.0"/>
<line x1="248.4" y1="274.9" x2="251.4" y2="274.9" stroke="#4a4a4a" stroke-width="0.9"/>
<text x="247.8" y="277.186" font-size="6.35" text-anchor="end" font-weight="bold" font-style="normal" font-family="Liberation Serif" fill="#1a1a1a" stroke="#1a1a1a" stroke-width="0.3" >0</text>
<line x1="249.8" y1="268.98499999999996" x2="251.4" y2="268.98499999999996" stroke="#4a4a4a" stroke-width="0.7"/>
<line x1="249.8" y1="263.07" x2="251.4" y2="263.07" stroke="#4a4a4a" stroke-width="0.7"/>
<line x1="249.8" y1="257.155" x2="251.4" y2="257.155" stroke="#4a4a4a" stroke-width="0.7"/>
<line x1="249.8" y1="251.23999999999998" x2="251.4" y2="251.23999999999998" stroke="#4a4a4a" stroke-width="0.7"/>
<line x1="248.4" y1="245.325" x2="251.4" y2="245.325" stroke="#4a4a4a" stroke-width="0.9"/>
<text x="247.8" y="247.611" font-size="6.35" text-anchor="end" font-weight="bold" font-style="normal" font-family="Liberation Serif" fill="#1a1a1a" stroke="#1a1a1a" stroke-width="0.3" >200</text>
<line x1="249.8" y1="239.41" x2="251.4" y2="239.41" stroke="#4a4a4a" stroke-width="0.7"/>
<line x1="249.8" y1="233.495" x2="251.4" y2="233.495" stroke="#4a4a4a" stroke-width="0.7"/>
<line x1="249.8" y1="227.57999999999998" x2="251.4" y2="227.57999999999998" stroke="#4a4a4a" stroke-width="0.7"/>
<line x1="249.8" y1="221.665" x2="251.4" y2="221.665" stroke="#4a4a4a" stroke-width="0.7"/>
<line x1="248.4" y1="215.75" x2="251.4" y2="215.75" stroke="#4a4a4a" stroke-width="0.9"/>
<text x="247.8" y="218.036" font-size="6.35" text-anchor="end" font-weight="bold" font-style="normal" font-family="Liberation Serif" fill="#1a1a1a" stroke="#1a1a1a" stroke-width="0.3" >400</text>
<line x1="249.8" y1="209.835" x2="251.4" y2="209.835" stroke="#4a4a4a" stroke-width="0.7"/>
<line x1="249.8" y1="203.92000000000002" x2="251.4" y2="203.92000000000002" stroke="#4a4a4a" stroke-width="0.7"/>
<line x1="249.8" y1="198.005" x2="251.4" y2="198.005" stroke="#4a4a4a" stroke-width="0.7"/>
<line x1="249.8" y1="192.09" x2="251.4" y2="192.09" stroke="#4a4a4a" stroke-width="0.7"/>
<line x1="248.4" y1="186.17499999999998" x2="251.4" y2="186.17499999999998" stroke="#4a4a4a" stroke-width="0.9"/>
<text x="247.8" y="188.46099999999998" font-size="6.35" text-anchor="end" font-weight="bold" font-style="normal" font-family="Liberation Serif" fill="#1a1a1a" stroke="#1a1a1a" stroke-width="0.3" >600</text>
<line x1="249.8" y1="180.26" x2="251.4" y2="180.26" stroke="#4a4a4a" stroke-width="0.7"/>
<line x1="249.8" y1="174.34499999999997" x2="251.4" y2="174.34499999999997" stroke="#4a4a4a" stroke-width="0.7"/>
<line x1="249.8" y1="168.42999999999998" x2="251.4" y2="168.42999999999998" stroke="#4a4a4a" stroke-width="0.7"/>
<line x1="249.8" y1="162.515" x2="251.4" y2="162.515" stroke="#4a4a4a" stroke-width="0.7"/>
<line x1="248.4" y1="156.6" x2="251.4" y2="156.6" stroke="#4a4a4a" stroke-width="0.9"/>
<text x="247.8" y="158.886" font-size="6.35" text-anchor="end" font-weight="bold" font-style="normal" font-family="Liberation Serif" fill="#1a1a1a" stroke="#1a1a1a" stroke-width="0.3" >800</text>
<text transform="translate(233.2,216.0) rotate(-90)" font-size="9.15" text-anchor="middle" font-weight="bold" font-family="Liberation Serif" fill="#111" stroke="#111" stroke-width="0.22">TAG content (mmol/g)</text>
<rect x="254.2" y="148.2" width="4.7" height="6.7" fill="#c5311a"/>
<rect x="254.2" y="154.89999999999998" width="4.7" height="6.7" fill="#0877c0"/>
<text x="261.2" y="154.09999999999997" font-size="7.9" text-anchor="start" font-weight="bold" font-style="normal" font-family="Liberation Serif" fill="#111" stroke="#111" stroke-width="0.2" letter-spacing="0.25">ds<tspan font-style="italic">GFP</tspan></text>
<text x="261.2" y="160.79999999999998" font-size="7.9" text-anchor="start" font-weight="bold" font-style="normal" font-family="Liberation Serif" fill="#111" stroke="#111" stroke-width="0.2" letter-spacing="0.25">ds<tspan font-style="italic">FAS2</tspan></text>
<rect x="261.6" y="183.9" width="20.5" height="90.99999999999997" fill="#c5311a"/>
<line x1="271.85" y1="178.0" x2="271.85" y2="183.9" stroke="#444" stroke-width="0.9"/>
<line x1="268.85" y1="178.0" x2="274.85" y2="178.0" stroke="#444" stroke-width="0.9"/>
<rect x="282.1" y="222.5" width="20.5" height="52.39999999999998" fill="#0877c0"/>
<line x1="292.35" y1="222.0" x2="292.35" y2="222.5" stroke="#444" stroke-width="0.9"/>
<line x1="289.35" y1="222.0" x2="295.35" y2="222.0" stroke="#444" stroke-width="0.9"/>
<line x1="282.1" y1="274.9" x2="282.1" y2="277.5" stroke="#4a4a4a" stroke-width="0.8"/>
<rect x="323.4" y="233.0" width="20.5" height="41.89999999999998" fill="#c5311a"/>
<line x1="333.65" y1="231.5" x2="333.65" y2="233.0" stroke="#444" stroke-width="0.9"/>
<line x1="330.65" y1="231.5" x2="336.65" y2="231.5" stroke="#444" stroke-width="0.9"/>
<rect x="343.9" y="255.9" width="20.5" height="18.99999999999997" fill="#0877c0"/>
<line x1="354.15" y1="253.6" x2="354.15" y2="255.9" stroke="#444" stroke-width="0.9"/>
<line x1="351.15" y1="253.6" x2="357.15" y2="253.6" stroke="#444" stroke-width="0.9"/>
<line x1="343.9" y1="274.9" x2="343.9" y2="277.5" stroke="#4a4a4a" stroke-width="0.8"/>
<polyline points="271.7,175.4 271.7,172.4 292.4,172.4 292.4,221.0" fill="none" stroke="#4c4c4c" stroke-width="0.85"/>
<circle cx="279.90" cy="167.70" r="1.54" fill="#111"/>
<path d="M279.90,165.95L279.90,169.45M281.42,166.82L278.38,168.57M281.42,168.57L278.38,166.82" stroke="#111" stroke-width="0.70" stroke-linecap="round"/>
<circle cx="285.00" cy="167.70" r="1.54" fill="#111"/>
<path d="M285.00,165.95L285.00,169.45M286.52,166.82L283.48,168.57M286.52,168.57L283.48,166.82" stroke="#111" stroke-width="0.70" stroke-linecap="round"/>
<polyline points="334.1,229.0 334.1,227.2 354.5,227.2 354.5,252.0" fill="none" stroke="#4c4c4c" stroke-width="0.85"/>
<circle cx="339.90" cy="222.30" r="1.58" fill="#111"/>
<path d="M339.90,220.50L339.90,224.10M341.46,221.40L338.34,223.20M341.46,223.20L338.34,221.40" stroke="#111" stroke-width="0.72" stroke-linecap="round"/>
<circle cx="344.95" cy="222.30" r="1.58" fill="#111"/>
<path d="M344.95,220.50L344.95,224.10M346.51,221.40L343.39,223.20M346.51,223.20L343.39,221.40" stroke="#111" stroke-width="0.72" stroke-linecap="round"/>
<circle cx="350.00" cy="222.30" r="1.58" fill="#111"/>
<path d="M350.00,220.50L350.00,224.10M351.56,221.40L348.44,223.20M351.56,223.20L348.44,221.40" stroke="#111" stroke-width="0.72" stroke-linecap="round"/>
<text x="283.0" y="284.8" font-size="7.9" text-anchor="middle" font-weight="bold" font-style="normal" font-family="Liberation Serif" fill="#111" stroke="#111" stroke-width="0.22" >Fat body</text>
<text x="344.3" y="284.8" font-size="7.9" text-anchor="middle" font-weight="bold" font-style="normal" font-family="Liberation Serif" fill="#111" stroke="#111" stroke-width="0.22" >Ovary</text>
<line x1="408.0" y1="155.9" x2="408.0" y2="275.0" stroke="#4a4a4a" stroke-width="1.0"/>
<line x1="407.5" y1="275.0" x2="483.5" y2="275.0" stroke="#4a4a4a" stroke-width="1.0"/>
<line x1="405.0" y1="275.0" x2="408.0" y2="275.0" stroke="#4a4a4a" stroke-width="0.9"/>
<text x="404.4" y="277.286" font-size="6.35" text-anchor="end" font-weight="bold" font-style="normal" font-family="Liberation Serif" fill="#1a1a1a" stroke="#1a1a1a" stroke-width="0.3" >0</text>
<line x1="406.4" y1="270.256" x2="408.0" y2="270.256" stroke="#4a4a4a" stroke-width="0.7"/>
<line x1="406.4" y1="265.512" x2="408.0" y2="265.512" stroke="#4a4a4a" stroke-width="0.7"/>
<line x1="406.4" y1="260.76800000000003" x2="408.0" y2="260.76800000000003" stroke="#4a4a4a" stroke-width="0.7"/>
<line x1="406.4" y1="256.024" x2="408.0" y2="256.024" stroke="#4a4a4a" stroke-width="0.7"/>
<line x1="405.0" y1="251.28" x2="408.0" y2="251.28" stroke="#4a4a4a" stroke-width="0.9"/>
<text x="404.4" y="253.566" font-size="6.35" text-anchor="end" font-weight="bold" font-style="normal" font-family="Liberation Serif" fill="#1a1a1a" stroke="#1a1a1a" stroke-width="0.3" >2</text>
<line x1="406.4" y1="246.536" x2="408.0" y2="246.536" stroke="#4a4a4a" stroke-width="0.7"/>
<line x1="406.4" y1="241.792" x2="408.0" y2="241.792" stroke="#4a4a4a" stroke-width="0.7"/>
<line x1="406.4" y1="237.048" x2="408.0" y2="237.048" stroke="#4a4a4a" stroke-width="0.7"/>
<line x1="406.4" y1="232.304" x2="408.0" y2="232.304" stroke="#4a4a4a" stroke-width="0.7"/>
<line x1="405.0" y1="227.56" x2="408.0" y2="227.56" stroke="#4a4a4a" stroke-width="0.9"/>
<text x="404.4" y="229.846" font-size="6.35" text-anchor="end" font-weight="bold" font-style="normal" font-family="Liberation Serif" fill="#1a1a1a" stroke="#1a1a1a" stroke-width="0.3" >4</text>
<line x1="406.4" y1="222.816" x2="408.0" y2="222.816" stroke="#4a4a4a" stroke-width="0.7"/>
<line x1="406.4" y1="218.072" x2="408.0" y2="218.072" stroke="#4a4a4a" stroke-width="0.7"/>
<line x1="406.4" y1="213.328" x2="408.0" y2="213.328" stroke="#4a4a4a" stroke-width="0.7"/>
<line x1="406.4" y1="208.584" x2="408.0" y2="208.584" stroke="#4a4a4a" stroke-width="0.7"/>
<line x1="405.0" y1="203.84" x2="408.0" y2="203.84" stroke="#4a4a4a" stroke-width="0.9"/>
<text x="404.4" y="206.126" font-size="6.35" text-anchor="end" font-weight="bold" font-style="normal" font-family="Liberation Serif" fill="#1a1a1a" stroke="#1a1a1a" stroke-width="0.3" >6</text>
<line x1="406.4" y1="199.096" x2="408.0" y2="199.096" stroke="#4a4a4a" stroke-width="0.7"/>
<line x1="406.4" y1="194.352" x2="408.0" y2="194.352" stroke="#4a4a4a" stroke-width="0.7"/>
<line x1="406.4" y1="189.608" x2="408.0" y2="189.608" stroke="#4a4a4a" stroke-width="0.7"/>
<line x1="406.4" y1="184.864" x2="408.0" y2="184.864" stroke="#4a4a4a" stroke-width="0.7"/>
<line x1="405.0" y1="180.12" x2="408.0" y2="180.12" stroke="#4a4a4a" stroke-width="0.9"/>
<text x="404.4" y="182.406" font-size="6.35" text-anchor="end" font-weight="bold" font-style="normal" font-family="Liberation Serif" fill="#1a1a1a" stroke="#1a1a1a" stroke-width="0.3" >8</text>
<line x1="406.4" y1="175.376" x2="408.0" y2="175.376" stroke="#4a4a4a" stroke-width="0.7"/>
<line x1="406.4" y1="170.632" x2="408.0" y2="170.632" stroke="#4a4a4a" stroke-width="0.7"/>
<line x1="406.4" y1="165.888" x2="408.0" y2="165.888" stroke="#4a4a4a" stroke-width="0.7"/>
<line x1="406.4" y1="161.144" x2="408.0" y2="161.144" stroke="#4a4a4a" stroke-width="0.7"/>
<line x1="405.0" y1="156.4" x2="408.0" y2="156.4" stroke="#4a4a4a" stroke-width="0.9"/>
<text x="404.4" y="158.686" font-size="6.35" text-anchor="end" font-weight="bold" font-style="normal" font-family="Liberation Serif" fill="#1a1a1a" stroke="#1a1a1a" stroke-width="0.3" >10</text>
<text transform="translate(393.2,216.0) rotate(-90)" font-size="9.25" text-anchor="middle" font-weight="bold" font-family="Liberation Serif" fill="#111" stroke="#111" stroke-width="0.22">TAG content (mmol/L)</text>
<text x="456.6" y="157.5" font-size="7.8" text-anchor="middle" font-weight="bold" font-style="normal" font-family="Liberation Serif" fill="#111" stroke="#111" stroke-width="0.22" >Hemolymph</text>
<rect x="420.2" y="188.2" width="25.0" height="86.80000000000001" fill="#c5311a"/>
<line x1="432.7" y1="179.1" x2="432.7" y2="188.2" stroke="#444" stroke-width="0.9"/>
<line x1="429.2" y1="179.1" x2="436.2" y2="179.1" stroke="#444" stroke-width="0.9"/>
<line x1="432.7" y1="275.0" x2="432.7" y2="277.6" stroke="#4a4a4a" stroke-width="0.8"/>
<rect x="457.5" y="174.0" width="25.3" height="101.0" fill="#0877c0"/>
<line x1="470.15" y1="167.3" x2="470.15" y2="174.0" stroke="#444" stroke-width="0.9"/>
<line x1="466.65" y1="167.3" x2="473.65" y2="167.3" stroke="#444" stroke-width="0.9"/>
<line x1="470.15" y1="275.0" x2="470.15" y2="277.6" stroke="#4a4a4a" stroke-width="0.8"/>
<text x="432.6" y="285.0" font-size="7.9" text-anchor="middle" font-weight="bold" font-style="normal" font-family="Liberation Serif" fill="#111" stroke="#111" stroke-width="0.22" >ds<tspan font-style="italic">GFP</tspan></text>
<text x="470.0" y="285.0" font-size="7.9" text-anchor="middle" font-weight="bold" font-style="normal" font-family="Liberation Serif" fill="#111" stroke="#111" stroke-width="0.22" >ds<tspan font-style="italic">FAS2</tspan></text>
<text x="6.5" y="299.0" font-size="13.2" text-anchor="start" font-weight="bold" font-style="normal" font-family="Liberation Sans" fill="#000" stroke="#000" stroke-width="0.5" >E</text>
<line x1="29.6" y1="296.0" x2="29.6" y2="428.3" stroke="#4a4a4a" stroke-width="1.0"/>
<line x1="29.1" y1="428.3" x2="147.0" y2="428.3" stroke="#4a4a4a" stroke-width="1.0"/>
<line x1="26.6" y1="428.3" x2="29.6" y2="428.3" stroke="#4a4a4a" stroke-width="0.9"/>
<text x="26.0" y="430.73" font-size="6.75" text-anchor="end" font-weight="bold" font-style="normal" font-family="Liberation Serif" fill="#1a1a1a" stroke="#1a1a1a" stroke-width="0.3" >0</text>
<line x1="28.0" y1="419.5133333333333" x2="29.6" y2="419.5133333333333" stroke="#4a4a4a" stroke-width="0.7"/>
<line x1="28.0" y1="410.7266666666667" x2="29.6" y2="410.7266666666667" stroke="#4a4a4a" stroke-width="0.7"/>
<line x1="28.0" y1="401.94" x2="29.6" y2="401.94" stroke="#4a4a4a" stroke-width="0.7"/>
<line x1="28.0" y1="393.15333333333336" x2="29.6" y2="393.15333333333336" stroke="#4a4a4a" stroke-width="0.7"/>
<line x1="26.6" y1="384.3666666666667" x2="29.6" y2="384.3666666666667" stroke="#4a4a4a" stroke-width="0.9"/>
<text x="26.0" y="386.7966666666667" font-size="6.75" text-anchor="end" font-weight="bold" font-style="normal" font-family="Liberation Serif" fill="#1a1a1a" stroke="#1a1a1a" stroke-width="0.3" >5</text>
<line x1="28.0" y1="375.58" x2="29.6" y2="375.58" stroke="#4a4a4a" stroke-width="0.7"/>
<line x1="28.0" y1="366.79333333333335" x2="29.6" y2="366.79333333333335" stroke="#4a4a4a" stroke-width="0.7"/>
<line x1="28.0" y1="358.00666666666666" x2="29.6" y2="358.00666666666666" stroke="#4a4a4a" stroke-width="0.7"/>
<line x1="28.0" y1="349.22" x2="29.6" y2="349.22" stroke="#4a4a4a" stroke-width="0.7"/>
<line x1="26.6" y1="340.43333333333334" x2="29.6" y2="340.43333333333334" stroke="#4a4a4a" stroke-width="0.9"/>
<text x="26.0" y="342.86333333333334" font-size="6.75" text-anchor="end" font-weight="bold" font-style="normal" font-family="Liberation Serif" fill="#1a1a1a" stroke="#1a1a1a" stroke-width="0.3" >10</text>
<line x1="28.0" y1="331.64666666666665" x2="29.6" y2="331.64666666666665" stroke="#4a4a4a" stroke-width="0.7"/>
<line x1="28.0" y1="322.86" x2="29.6" y2="322.86" stroke="#4a4a4a" stroke-width="0.7"/>
<line x1="28.0" y1="314.0733333333333" x2="29.6" y2="314.0733333333333" stroke="#4a4a4a" stroke-width="0.7"/>
<line x1="28.0" y1="305.2866666666667" x2="29.6" y2="305.2866666666667" stroke="#4a4a4a" stroke-width="0.7"/>
<line x1="26.6" y1="296.5" x2="29.6" y2="296.5" stroke="#4a4a4a" stroke-width="0.9"/>
<text x="26.0" y="298.93" font-size="6.75" text-anchor="end" font-weight="bold" font-style="normal" font-family="Liberation Serif" fill="#1a1a1a" stroke="#1a1a1a" stroke-width="0.3" >15</text>
<text transform="translate(13.2,362.25) rotate(-90)" font-size="10.1" text-anchor="middle" font-weight="bold" font-family="Liberation Serif" fill="#111" stroke="#111" stroke-width="0.22">FFA content (μmol/g)</text>
<rect x="34.9" y="292.1" width="5.0" height="8.05" fill="#c5311a"/>
<rect x="34.9" y="300.15000000000003" width="5.0" height="8.05" fill="#0877c0"/>
<text x="42.3" y="299.35" font-size="8.9" text-anchor="start" font-weight="bold" font-style="normal" font-family="Liberation Serif" fill="#111" stroke="#111" stroke-width="0.2" letter-spacing="0">ds<tspan font-style="italic">GFP</tspan></text>
<text x="42.3" y="307.40000000000003" font-size="8.9" text-anchor="start" font-weight="bold" font-style="normal" font-family="Liberation Serif" fill="#111" stroke="#111" stroke-width="0.2" letter-spacing="0">ds<tspan font-style="italic">FAS2</tspan></text>
<rect x="40.2" y="362.6" width="20.6" height="65.69999999999999" fill="#c5311a"/>
<line x1="50.5" y1="361.2" x2="50.5" y2="362.6" stroke="#444" stroke-width="0.9"/>
<line x1="47.5" y1="361.2" x2="53.5" y2="361.2" stroke="#444" stroke-width="0.9"/>
<rect x="60.800000000000004" y="328.5" width="20.6" height="99.80000000000001" fill="#0877c0"/>
<line x1="71.10000000000001" y1="323.2" x2="71.10000000000001" y2="328.5" stroke="#444" stroke-width="0.9"/>
<line x1="68.10000000000001" y1="323.2" x2="74.10000000000001" y2="323.2" stroke="#444" stroke-width="0.9"/>
<line x1="60.800000000000004" y1="428.3" x2="60.800000000000004" y2="430.90000000000003" stroke="#4a4a4a" stroke-width="0.8"/>
<rect x="101.9" y="391.0" width="20.6" height="37.30000000000001" fill="#c5311a"/>
<line x1="112.2" y1="379.0" x2="112.2" y2="391.0" stroke="#444" stroke-width="0.9"/>
<line x1="109.2" y1="379.0" x2="115.2" y2="379.0" stroke="#444" stroke-width="0.9"/>
<rect x="122.5" y="411.4" width="20.6" height="16.900000000000034" fill="#0877c0"/>
<line x1="132.8" y1="407.4" x2="132.8" y2="411.4" stroke="#444" stroke-width="0.9"/>
<line x1="129.8" y1="407.4" x2="135.8" y2="407.4" stroke="#444" stroke-width="0.9"/>
<line x1="122.5" y1="428.3" x2="122.5" y2="430.90000000000003" stroke="#4a4a4a" stroke-width="0.8"/>
<polyline points="50.5,360.5 50.5,318.7 71.5,318.7 71.5,320.6" fill="none" stroke="#4c4c4c" stroke-width="0.85"/>
<circle cx="58.50" cy="314.10" r="1.72" fill="#111"/>
<path d="M58.50,312.15L58.50,316.05M60.19,313.12L56.81,315.08M60.19,315.08L56.81,313.12" stroke="#111" stroke-width="0.78" stroke-linecap="round"/>
<circle cx="64.50" cy="314.10" r="1.72" fill="#111"/>
<path d="M64.50,312.15L64.50,316.05M66.19,313.12L62.81,315.08M66.19,315.08L62.81,313.12" stroke="#111" stroke-width="0.78" stroke-linecap="round"/>
<text x="60.5" y="439.0" font-size="8.8" text-anchor="middle" font-weight="bold" font-style="normal" font-family="Liberation Serif" fill="#111" stroke="#111" stroke-width="0.22" >Fat body</text>
<text x="122.5" y="439.0" font-size="8.8" text-anchor="middle" font-weight="bold" font-style="normal" font-family="Liberation Serif" fill="#111" stroke="#111" stroke-width="0.22" >Ovary</text>
<line x1="184.3" y1="306.8" x2="184.3" y2="428.8" stroke="#4a4a4a" stroke-width="1.0"/>
<line x1="183.8" y1="428.8" x2="271.6" y2="428.8" stroke="#4a4a4a" stroke-width="1.0"/>
<line x1="181.3" y1="428.8" x2="184.3" y2="428.8" stroke="#4a4a4a" stroke-width="0.9"/>
<text x="180.70000000000002" y="431.23" font-size="6.75" text-anchor="end" font-weight="bold" font-style="normal" font-family="Liberation Serif" fill="#1a1a1a" stroke="#1a1a1a" stroke-width="0.3" >0</text>
<line x1="182.70000000000002" y1="423.94" x2="184.3" y2="423.94" stroke="#4a4a4a" stroke-width="0.7"/>
<line x1="182.70000000000002" y1="419.08" x2="184.3" y2="419.08" stroke="#4a4a4a" stroke-width="0.7"/>
<line x1="182.70000000000002" y1="414.22" x2="184.3" y2="414.22" stroke="#4a4a4a" stroke-width="0.7"/>
<line x1="182.70000000000002" y1="409.36" x2="184.3" y2="409.36" stroke="#4a4a4a" stroke-width="0.7"/>
<line x1="181.3" y1="404.5" x2="184.3" y2="404.5" stroke="#4a4a4a" stroke-width="0.9"/>
<text x="180.70000000000002" y="406.93" font-size="6.75" text-anchor="end" font-weight="bold" font-style="normal" font-family="Liberation Serif" fill="#1a1a1a" stroke="#1a1a1a" stroke-width="0.3" >50</text>
<line x1="182.70000000000002" y1="399.64" x2="184.3" y2="399.64" stroke="#4a4a4a" stroke-width="0.7"/>
<line x1="182.70000000000002" y1="394.78" x2="184.3" y2="394.78" stroke="#4a4a4a" stroke-width="0.7"/>
<line x1="182.70000000000002" y1="389.92" x2="184.3" y2="389.92" stroke="#4a4a4a" stroke-width="0.7"/>
<line x1="182.70000000000002" y1="385.06" x2="184.3" y2="385.06" stroke="#4a4a4a" stroke-width="0.7"/>
<line x1="181.3" y1="380.2" x2="184.3" y2="380.2" stroke="#4a4a4a" stroke-width="0.9"/>
<text x="180.70000000000002" y="382.63" font-size="6.75" text-anchor="end" font-weight="bold" font-style="normal" font-family="Liberation Serif" fill="#1a1a1a" stroke="#1a1a1a" stroke-width="0.3" >100</text>
<line x1="182.70000000000002" y1="375.34" x2="184.3" y2="375.34" stroke="#4a4a4a" stroke-width="0.7"/>
<line x1="182.70000000000002" y1="370.47999999999996" x2="184.3" y2="370.47999999999996" stroke="#4a4a4a" stroke-width="0.7"/>
<line x1="182.70000000000002" y1="365.62" x2="184.3" y2="365.62" stroke="#4a4a4a" stroke-width="0.7"/>
<line x1="182.70000000000002" y1="360.76" x2="184.3" y2="360.76" stroke="#4a4a4a" stroke-width="0.7"/>
<line x1="181.3" y1="355.9" x2="184.3" y2="355.9" stroke="#4a4a4a" stroke-width="0.9"/>
<text x="180.70000000000002" y="358.33" font-size="6.75" text-anchor="end" font-weight="bold" font-style="normal" font-family="Liberation Serif" fill="#1a1a1a" stroke="#1a1a1a" stroke-width="0.3" >150</text>
<line x1="182.70000000000002" y1="351.03999999999996" x2="184.3" y2="351.03999999999996" stroke="#4a4a4a" stroke-width="0.7"/>
<line x1="182.70000000000002" y1="346.17999999999995" x2="184.3" y2="346.17999999999995" stroke="#4a4a4a" stroke-width="0.7"/>
<line x1="182.70000000000002" y1="341.32" x2="184.3" y2="341.32" stroke="#4a4a4a" stroke-width="0.7"/>
<line x1="182.70000000000002" y1="336.46" x2="184.3" y2="336.46" stroke="#4a4a4a" stroke-width="0.7"/>
<line x1="181.3" y1="331.6" x2="184.3" y2="331.6" stroke="#4a4a4a" stroke-width="0.9"/>
<text x="180.70000000000002" y="334.03000000000003" font-size="6.75" text-anchor="end" font-weight="bold" font-style="normal" font-family="Liberation Serif" fill="#1a1a1a" stroke="#1a1a1a" stroke-width="0.3" >200</text>
<line x1="182.70000000000002" y1="326.74" x2="184.3" y2="326.74" stroke="#4a4a4a" stroke-width="0.7"/>
<line x1="182.70000000000002" y1="321.88" x2="184.3" y2="321.88" stroke="#4a4a4a" stroke-width="0.7"/>
<line x1="182.70000000000002" y1="317.02000000000004" x2="184.3" y2="317.02000000000004" stroke="#4a4a4a" stroke-width="0.7"/>
<line x1="182.70000000000002" y1="312.16" x2="184.3" y2="312.16" stroke="#4a4a4a" stroke-width="0.7"/>
<line x1="181.3" y1="307.3" x2="184.3" y2="307.3" stroke="#4a4a4a" stroke-width="0.9"/>
<text x="180.70000000000002" y="309.73" font-size="6.75" text-anchor="end" font-weight="bold" font-style="normal" font-family="Liberation Serif" fill="#1a1a1a" stroke="#1a1a1a" stroke-width="0.3" >250</text>
<text transform="translate(166.6,368.0) rotate(-90)" font-size="9.3" text-anchor="middle" font-weight="bold" font-family="Liberation Serif" fill="#111" stroke="#111" stroke-width="0.22">FFA content (μmol/L)</text>
<text x="227.6" y="295.5" font-size="7.7" text-anchor="middle" font-weight="bold" font-style="normal" font-family="Liberation Serif" fill="#111" stroke="#111" stroke-width="0.22" >Hemolymph</text>
<rect x="196.4" y="345.0" width="25.2" height="83.80000000000001" fill="#c5311a"/>
<line x1="209.0" y1="343.5" x2="209.0" y2="345.0" stroke="#444" stroke-width="0.9"/>
<line x1="205.5" y1="343.5" x2="212.5" y2="343.5" stroke="#444" stroke-width="0.9"/>
<line x1="209.0" y1="428.8" x2="209.0" y2="431.40000000000003" stroke="#4a4a4a" stroke-width="0.8"/>
<rect x="233.9" y="321.4" width="25.0" height="107.40000000000003" fill="#0877c0"/>
<line x1="246.4" y1="313.4" x2="246.4" y2="321.4" stroke="#444" stroke-width="0.9"/>
<line x1="242.9" y1="313.4" x2="249.9" y2="313.4" stroke="#444" stroke-width="0.9"/>
<line x1="246.4" y1="428.8" x2="246.4" y2="431.40000000000003" stroke="#4a4a4a" stroke-width="0.8"/>
<polyline points="208.9,340.5 208.9,308.5 246.5,308.5 246.5,311.0" fill="none" stroke="#4c4c4c" stroke-width="0.85"/>
<circle cx="227.70" cy="303.60" r="1.50" fill="#111"/>
<path d="M227.70,301.90L227.70,305.30M229.17,302.75L226.23,304.45M229.17,304.45L226.23,302.75" stroke="#111" stroke-width="0.68" stroke-linecap="round"/>
<text x="208.9" y="438.6" font-size="8.2" text-anchor="middle" font-weight="bold" font-style="normal" font-family="Liberation Serif" fill="#111" stroke="#111" stroke-width="0.22" >ds<tspan font-style="italic">GFP</tspan></text>
<text x="246.0" y="438.6" font-size="8.2" text-anchor="middle" font-weight="bold" font-style="normal" font-family="Liberation Serif" fill="#111" stroke="#111" stroke-width="0.22" >ds<tspan font-style="italic">FAS2</tspan></text>
<text x="273.2" y="298.9" font-size="13.2" text-anchor="start" font-weight="bold" font-style="normal" font-family="Liberation Sans" fill="#000" stroke="#000" stroke-width="0.5" >F</text>
<defs><filter id="bl" x="-5%" y="-5%" width="110%" height="110%"><feGaussianBlur stdDeviation="1.3"/></filter><filter id="spk" x="0" y="0" width="100%" height="100%"><feTurbulence type="fractalNoise" baseFrequency="0.55" numOctaves="1" seed="7"/><feColorMatrix type="matrix" values="0 0 0 0 1  0 0 0 0 1  0 0 0 0 1  0 0 0 9 -5.6"/><feComposite in2="SourceGraphic" operator="in"/></filter></defs>
<filter id="sat" x="0" y="0" width="100%" height="100%" color-interpolation-filters="sRGB"><feColorMatrix type="saturate" values="1.15"/><feComponentTransfer><feFuncR type="linear" slope="1.08" intercept="-0.05"/><feFuncG type="linear" slope="1.08" intercept="-0.05"/><feFuncB type="linear" slope="1.08" intercept="-0.05"/></feComponentTransfer></filter>
<g filter="url(#sat)">
<clipPath id="cp1"><rect x="295.8" y="291.3" width="85.4" height="127.8"/></clipPath>
<g clip-path="url(#cp1)">
<g filter="url(#bl)">
<rect x="290" y="286" width="95" height="137" fill="#cdbc6a"/>
<polygon points="290,286 385,286 385,302 290,304" fill="#a08e78"/>
<ellipse cx="306" cy="295" rx="11" ry="4" fill="#958470"/>
<ellipse cx="318" cy="298" rx="6" ry="3" fill="#c8b898"/>
<ellipse cx="372" cy="312" rx="10" ry="12" fill="#b8a08c"/>
<ellipse cx="364" cy="296" rx="8" ry="4" fill="#a89480"/>
<polygon points="290,301 324,299 330,336 314,342 290,338" fill="#b89c5a"/>
<ellipse cx="314" cy="320" rx="9" ry="7" fill="#ccae5c"/>
<ellipse cx="300" cy="312" rx="7" ry="5" fill="#a48e60"/>
<ellipse cx="307" cy="333" rx="9" ry="2.5" fill="#947e52"/>
<polygon points="352,318 385,324 385,340 366,346 350,336" fill="#bca868"/>
<ellipse cx="368" cy="340" rx="8" ry="6" fill="#bcac7c"/>
<ellipse cx="332" cy="307" rx="10" ry="13" fill="#eeeac8"/>
<ellipse cx="349" cy="308" rx="9" ry="12" fill="#ebe5b8"/>
<ellipse cx="340" cy="322" rx="7" ry="5" fill="#ded49c"/>
<polygon points="290,326 301,330 303,423 290,423" fill="#5c5644"/>
<polygon points="300,336 306,336 314,423 303,423" fill="#8a7a48"/>
<polygon points="303,340 318,328 358,328 378,342 352,419 314,423" fill="#d8c254"/>
<ellipse cx="329" cy="350" rx="10" ry="20" fill="#e6b63a"/>
<ellipse cx="342" cy="344" rx="6" ry="8" fill="#e4bc40"/>
<ellipse cx="330" cy="400" rx="11" ry="16" fill="#e0cc56"/>
<ellipse cx="354" cy="386" rx="7" ry="12" fill="#d8c65c"/>
<ellipse cx="320" cy="368" rx="4" ry="20" fill="#b4c89a" transform="rotate(-6 320 368)"/>
<ellipse cx="324" cy="400" rx="3.5" ry="12" fill="#a8c090" transform="rotate(-6 324 400)"/>
<ellipse cx="357" cy="352" rx="5" ry="3.5" fill="#c4ca98"/>
<ellipse cx="346" cy="372" rx="3.5" ry="3.5" fill="#d0d4a4"/>
<polygon points="385,334 385,423 350,423" fill="#a4a8ae"/>
<polygon points="385,334 385,372 370,372" fill="#7c808a"/>
<polygon points="374,344 379,340 354,423 346,423" fill="#7a6646"/>
<polygon points="379,340 382,340 353,423 350,423" fill="#2e2c28"/>
<ellipse cx="308" cy="338" rx="3" ry="2.5" fill="#804822"/>
<ellipse cx="349" cy="358" rx="3.5" ry="2.5" fill="#804822"/>
<ellipse cx="345" cy="377" rx="3.5" ry="2.5" fill="#804822"/>
<ellipse cx="315" cy="392" rx="3" ry="3" fill="#804822"/>
<ellipse cx="342" cy="397" rx="3" ry="2.5" fill="#804822"/>
<ellipse cx="309" cy="368" rx="2.5" ry="3.5" fill="#804822"/>
<ellipse cx="322" cy="411" rx="2.5" ry="2.5" fill="#804822"/>
<ellipse cx="360" cy="345" rx="3" ry="2" fill="#804822"/>
<ellipse cx="355" cy="410" rx="3" ry="2.5" fill="#804822"/>
<ellipse cx="304" cy="352" rx="2" ry="3" fill="#804822"/>
</g>
<ellipse cx="334" cy="299" rx="2" ry="1" fill="#f6f6f0" opacity="0.8"/>
<ellipse cx="318" cy="330" rx="2.5" ry="0.8" fill="#f6f6f0" opacity="0.8"/>
<ellipse cx="352" cy="322" rx="1.5" ry="0.8" fill="#f6f6f0" opacity="0.8"/>
<ellipse cx="325" cy="362" rx="1.2" ry="2" fill="#f6f6f0" opacity="0.8"/>
<ellipse cx="330" cy="388" rx="1" ry="2" fill="#f6f6f0" opacity="0.8"/>
<ellipse cx="312" cy="351" rx="1.4" ry="1.4" fill="#f6f6f0" opacity="0.8"/>
<ellipse cx="316" cy="376" rx="1" ry="1.6" fill="#f6f6f0" opacity="0.8"/>
<ellipse cx="364" cy="331" rx="1.2" ry="0.8" fill="#f6f6f0" opacity="0.8"/>
<ellipse cx="344" cy="314" rx="1.5" ry="0.8" fill="#f6f6f0" opacity="0.8"/>
<ellipse cx="350" cy="340" rx="1" ry="1.4" fill="#f6f6f0" opacity="0.8"/>
<ellipse cx="322" cy="350" rx="0.8" ry="1.5" fill="#f6f6f0" opacity="0.8"/>
<ellipse cx="336" cy="370" rx="1" ry="1" fill="#f6f6f0" opacity="0.8"/>
<ellipse cx="320" cy="398" rx="1" ry="1.2" fill="#f6f6f0" opacity="0.8"/>
<circle cx="373" cy="378" r="0.9" fill="#f2f2f4" opacity="0.9"/>
<circle cx="376" cy="384" r="0.9" fill="#f2f2f4" opacity="0.9"/>
<circle cx="371" cy="390" r="0.9" fill="#f2f2f4" opacity="0.9"/>
<circle cx="377" cy="396" r="0.9" fill="#f2f2f4" opacity="0.9"/>
<circle cx="375" cy="372" r="0.9" fill="#f2f2f4" opacity="0.9"/>
<circle cx="379" cy="402" r="0.9" fill="#f2f2f4" opacity="0.9"/>
<circle cx="369" cy="398" r="0.9" fill="#f2f2f4" opacity="0.9"/>
<text x="367.5" y="410.5" font-size="4.2" font-family="Liberation Sans" font-weight="bold" fill="#f0f0f0" text-anchor="middle">0.5mm</text>
<line x1="357" y1="414" x2="380" y2="414" stroke="#f0f0f0" stroke-width="0.8"/>
</g>
<clipPath id="cp2"><rect x="387.0" y="291.3" width="85.2" height="127.8"/></clipPath>
<g clip-path="url(#cp2)">
<g filter="url(#bl)">
<rect x="382" y="286" width="95" height="137" fill="#d2d0b6"/>
<polygon points="382,291 418,291 414,330 382,334" fill="#c8a67c"/>
<polygon points="386,300 398,298 416,314 414,322" fill="#e0cca6"/>
<polygon points="384,316 392,314 410,330 400,334" fill="#dcc8a2"/>
<ellipse cx="392" cy="294" rx="9" ry="5" fill="#7c5a4a"/>
<polygon points="382,300 389,300 389,338 382,338" fill="#b8a8a0"/>
<polygon points="416,291 438,291 434,326 414,330" fill="#eee6d0"/>
<polygon points="436,291 477,291 477,336 440,334" fill="#d0b07c"/>
<polygon points="440,302 452,300 470,322 462,326" fill="#e6d0a2"/>
<polygon points="438,318 446,316 462,334 452,336" fill="#e2cc9e"/>
<ellipse cx="468" cy="296" rx="9" ry="6" fill="#86604e"/>
<polygon points="392,330 458,326 460,340 395,344" fill="#d6d2a8"/>
<polygon points="382,336 404,338 402,423 382,423" fill="#d4ccb8"/>
<polygon points="400,340 456,336 444,423 400,423" fill="#c6cab4"/>
<ellipse cx="423" cy="360" rx="17" ry="27" fill="#d0c890" transform="rotate(18 423 360)"/>
<ellipse cx="423" cy="360" rx="15" ry="25" fill="#a2b2bc" transform="rotate(18 423 360)"/>
<ellipse cx="425" cy="352" rx="10" ry="17" fill="#8a9cae" transform="rotate(18 425 352)"/>
<ellipse cx="418" cy="392" rx="2.2" ry="11" fill="#728a48"/>
<ellipse cx="414" cy="410" rx="1.8" ry="5" fill="#8a9c62"/>
<ellipse cx="390" cy="370" rx="2.8" ry="3.5" fill="#8e5436"/>
<ellipse cx="393" cy="390" rx="2.8" ry="4" fill="#8e5436"/>
<ellipse cx="396" cy="406" rx="2.8" ry="3" fill="#8e5436"/>
<ellipse cx="388" cy="352" rx="2" ry="3" fill="#8e5436"/>
<ellipse cx="391" cy="416" rx="2" ry="2" fill="#8e5436"/>
<polygon points="466,346 477,346 477,423 454,423" fill="#e4e3e4"/>
<line x1="471" y1="385" x2="465" y2="419" stroke="#cc6a66" stroke-width="1.0"/>
<polygon points="456,336 475,344 458,423 436,423" fill="#8a5e3e"/>
<polygon points="468,356 473,356 457,423 452,423" fill="#58422e"/>
<ellipse cx="452" cy="364" rx="3" ry="4" fill="#c09468"/>
<ellipse cx="444" cy="396" rx="3" ry="4" fill="#b48a5c"/>
<ellipse cx="458" cy="346" rx="3" ry="3" fill="#b08056"/>
</g>
<path d="M408,345 Q420,330 438,342" stroke="#dcc46a" stroke-width="1" fill="none" opacity="0.8"/>
<path d="M410,372 Q424,384 440,368" stroke="#dcc46a" stroke-width="1" fill="none" opacity="0.8"/>
<ellipse cx="430" cy="312" rx="2" ry="0.9" fill="#f6f4ec" opacity="0.8"/>
<ellipse cx="446" cy="316" rx="2" ry="0.8" fill="#f6f4ec" opacity="0.8"/>
<ellipse cx="452" cy="325" rx="1.5" ry="0.8" fill="#f6f4ec" opacity="0.8"/>
<ellipse cx="404" cy="355" rx="1.2" ry="2" fill="#f6f4ec" opacity="0.8"/>
<ellipse cx="399" cy="372" rx="1" ry="1.5" fill="#f6f4ec" opacity="0.8"/>
<ellipse cx="437" cy="360" rx="1.5" ry="1" fill="#f6f4ec" opacity="0.8"/>
<ellipse cx="452" cy="340" rx="1.5" ry="1" fill="#f6f4ec" opacity="0.8"/>
<ellipse cx="458" cy="330" rx="1.2" ry="0.8" fill="#f6f4ec" opacity="0.8"/>
<ellipse cx="405" cy="320" rx="2" ry="0.7" fill="#f6f4ec" opacity="0.8"/>
<ellipse cx="463" cy="308" rx="1.5" ry="0.7" fill="#f6f4ec" opacity="0.8"/>
<text x="456" y="410" font-size="3.8" font-family="Liberation Sans" font-weight="bold" fill="#f0f0f0" text-anchor="middle">0.5mm</text>
<text x="456" y="415" font-size="3.2" font-family="Liberation Sans" fill="#f0f0f0" text-anchor="middle">bodyhalves</text>
</g>
</g>
<rect x="295.7" y="422.2" width="88" height="15" fill="#fff" stroke="#000" stroke-width="1.6"/>
<rect x="386.9" y="422.2" width="87.4" height="15" fill="#fff" stroke="#000" stroke-width="1.6"/>
<text x="339.2" y="432.8" font-size="12.2" text-anchor="middle" font-weight="bold" font-style="normal" font-family="Liberation Serif" fill="#000" stroke="#000" stroke-width="0.22" >ds<tspan font-style="italic">GFP</tspan></text>
<text x="430.6" y="432.8" font-size="12.2" text-anchor="middle" font-weight="bold" font-style="normal" font-family="Liberation Serif" fill="#000" stroke="#000" stroke-width="0.22" >ds<tspan font-style="italic">FAS2</tspan></text>
</svg></body></html>
